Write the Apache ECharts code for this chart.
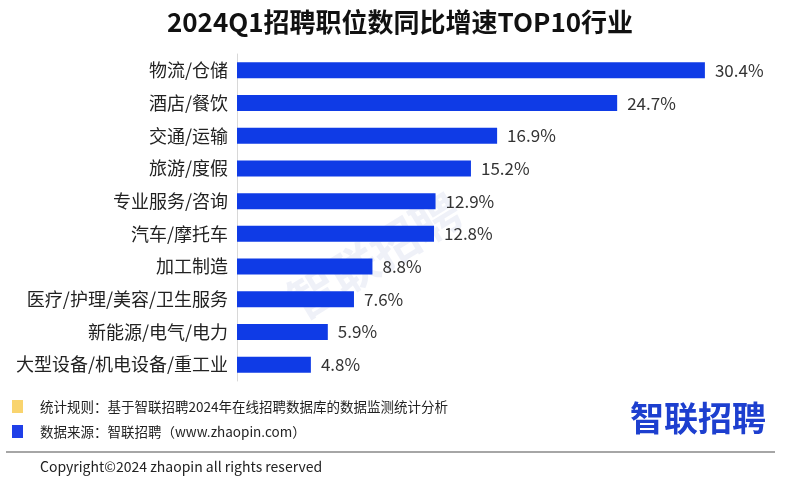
<!DOCTYPE html>
<html>
<head>
<meta charset="utf-8">
<script src="https://cdn.jsdelivr.net/npm/echarts@6/dist/echarts.min.js"></script>
<style>html,body{margin:0;padding:0;background:#fff;}#c{width:800px;height:495px;}</style>
</head>
<body>
<div id="c"></div>
<script>
const titleText = '2024Q1招聘职位数同比增速TOP10行业';
const categories = ['物流/仓储','酒店/餐饮','交通/运输','旅游/度假','专业服务/咨询','汽车/摩托车','加工制造','医疗/护理/美容/卫生服务','新能源/电气/电力','大型设备/机电设备/重工业'];
const values = [30.4, 24.7, 16.9, 15.2, 12.9, 12.8, 8.8, 7.6, 5.9, 4.8];
const footnotes = ['统计规则：基于智联招聘2024年在线招聘数据库的数据监测统计分析', '数据来源：智联招聘（www.zhaopin.com）'];
const copyright = 'Copyright©2024 zhaopin all rights reserved';

const font = '"Noto Sans CJK SC", "Noto Sans", sans-serif';
const chart = echarts.init(document.getElementById('c'));
chart.setOption({
  backgroundColor: '#fff',
  animation: false,
  title: {
    text: titleText, left: 'center', top: 4,
    textStyle: {fontSize: 26, fontWeight: 'bold', color: '#111', fontFamily: font}
  },
  grid: {left: 237, top: 54, height: 327, width: 538.7},
  xAxis: {type: 'value', min: 0, max: 35, show: false},
  yAxis: {
    type: 'category', data: categories, inverse: true,
    axisLine: {show: true, lineStyle: {color: '#d8d8d8', width: 1}},
    axisTick: {show: false},
    axisLabel: {fontSize: 18, color: '#222', fontFamily: font, margin: 9}
  },
  series: [{
    type: 'bar', data: values, barWidth: 16,
    itemStyle: {color: '#0f3be6'},
    label: {show: true, position: 'right', distance: 10, formatter: '{c}%', fontSize: 17, color: '#333', fontFamily: font}
  }],
  graphic: [
    {type: 'text', left: 280, top: 185, rotation: 0.55, silent: true,
      style: {text: '智联招聘', font: 'bold 48px ' + font, fill: 'rgba(120,140,200,0.12)'}},
    {type: 'rect', shape: {x: 12, y: 400, width: 11, height: 13}, style: {fill: '#f9d46e'}},
    {type: 'rect', shape: {x: 12, y: 425, width: 11, height: 13}, style: {fill: '#1f3fe8'}},
    {type: 'text', x: 40, y: 407, style: {text: footnotes[0], font: '13.5px ' + font, fill: '#222', verticalAlign: 'middle'}},
    {type: 'text', x: 40, y: 432, style: {text: footnotes[1], font: '13.5px ' + font, fill: '#222', verticalAlign: 'middle'}},
    {type: 'text', x: 630, y: 418, style: {text: '智联招聘', font: 'bold 34px ' + font, fill: '#1d3fcf', verticalAlign: 'middle'}},
    {type: 'line', shape: {x1: 6, y1: 452, x2: 775, y2: 452}, style: {stroke: '#888', lineWidth: 1.5}},
    {type: 'text', x: 40, y: 467, style: {text: copyright, font: '14px ' + font, fill: '#222', verticalAlign: 'middle'}}
  ]
});
</script>
</body>
</html>
